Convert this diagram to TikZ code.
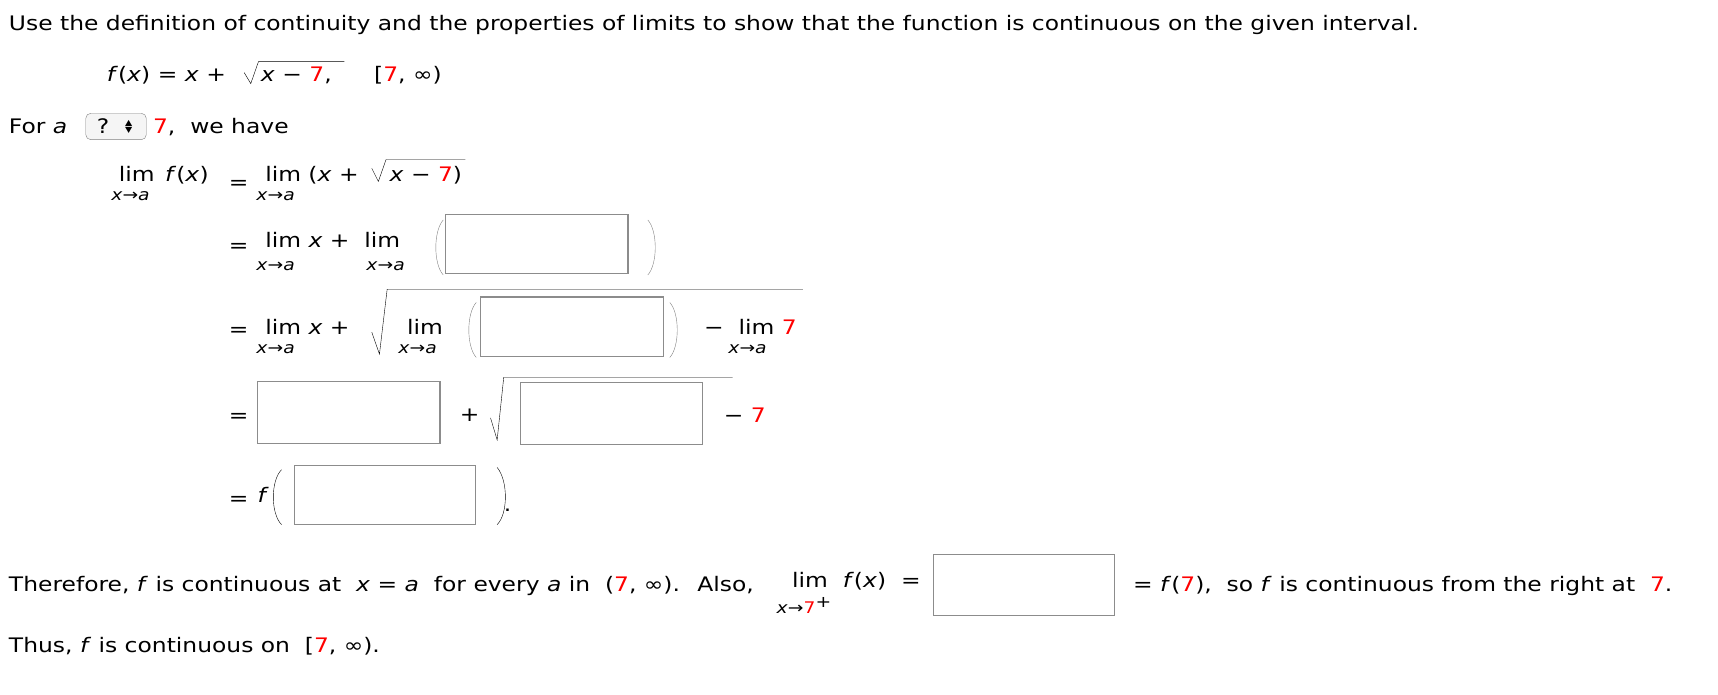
\documentclass[tikz,border=0pt]{standalone}
\usepackage{fontspec}
\setmainfont[FakeStretch=1.17]{DejaVu Sans}
\begin{document}
\begin{tikzpicture}[x=1.1pt,y=-1.1pt,
 t/.style={anchor=base west,inner sep=0pt,font=\fontsize{20}{24}\selectfont},
 s/.style={anchor=base west,inner sep=0pt,font=\fontsize{16}{18}\selectfont},
 ib/.style={draw=gray!90,line width=1.2pt,fill=white},
 r/.style={text=red}]
\useasboundingbox (0,0) rectangle (1562,631);
\node[t] (l1) at (8,28) {Use the definition of continuity and the properties of limits to show that the function is continuous on the given interval.};
\node[t] (fx) at (97,74) {\textit{f}(\textit{x}) = \textit{x} +};
\draw (222,66)--(228,76)--(235,56)--(313,56);
\node[t] (r1) at (237,74) {\textit{x} − \textcolor{red}{7},};
\node[t] (int) at (340,74) {[\textcolor{red}{7}, ∞)};
\node[t] (fa) at (8,121) {For \textit{a}};
\draw[gray,fill=gray!8,rounded corners=5pt] (78,103) rectangle (133,127);
\node[t] (q) at (88,121) {?};
\node[font=\fontsize{8}{7}\selectfont,inner sep=0pt,align=center] (ud) at (117,115) {▲\\▼};
\node[t] (we) at (139,121) {\textcolor{red}{7}, \ we have};
% row1
\node[t] (a1) at (108,165) {lim};
\node[t] (a1f) at (150,165) {\textit{f}(\textit{x})};
\node[s] (a1s) at (101,182) {\textit{x}→\textit{a}};
\node[t] (e1) at (208,172) {=};
\node[t] (b1) at (241,165) {lim (\textit{x} +};
\draw (338,153)--(344,165)--(351,145)--(423,145);
\node[s] (b1s) at (233,182) {\textit{x}→\textit{a}};
\node[t] (b1r) at (354,165) {\textit{x} − \textcolor{red}{7})};
% row2
\node[t] (e2) at (208,230) {=};
\node[t] (c2) at (241,225) {lim \textit{x} + \ lim};
\node[s] (c2s) at (233,246) {\textit{x}→\textit{a}};
\node[s] (c2t) at (333,246) {\textit{x}→\textit{a}};
\draw[gray] (403,200) .. controls (394,210) and (394,240) .. (403,250);
\node[ib,minimum width=166pt*1.1,minimum height=54pt*1.1,inner sep=0pt] (bx1) at (488,222) {};
\draw[gray] (589,200) .. controls (598,210) and (598,240) .. (589,250);
% row3
\node[t] (e3) at (208,306) {=};
\node[t] (c3) at (241,304) {lim \textit{x} +};
\node[s] (c3s) at (233,321) {\textit{x}→\textit{a}};
\draw (338,302)--(345,322)--(352,263)--(730,263);
\node[t] (c3b) at (370,304) {lim};
\node[s] (c3bs) at (362,321) {\textit{x}→\textit{a}};
\draw[gray] (433,275) .. controls (424,285) and (424,315) .. (433,325);
\node[ib,minimum width=166pt*1.1,minimum height=54pt*1.1,inner sep=0pt] (bx2) at (520,297) {};
\draw[gray] (609,275) .. controls (618,285) and (618,315) .. (609,325);
\node[t] (c3c) at (640,304) {− \ lim \textcolor{red}{7}};
\node[s] (c3cs) at (662,321) {\textit{x}→\textit{a}};
% row4
\node[t] (e4) at (208,384) {=};
\node[ib,minimum width=166pt*1.1,minimum height=56pt*1.1,inner sep=0pt] (bx3) at (317,375) {};
\node[t] (p4) at (418,383) {+};
\draw (446,380)--(452,400)--(458,343)--(666,343);
\node[ib,minimum width=166pt*1.1,minimum height=56pt*1.1,inner sep=0pt] (bx4) at (556,376) {};
\node[t] (m4) at (658,384) {− \textcolor{red}{7}};
% row5
\node[t] (e5) at (208,460) {=};
\node[t] (f5) at (234,457) {\textit{f}};
\draw (256,427) .. controls (246,437) and (246,467) .. (256,477);
\node[ib,minimum width=164pt*1.1,minimum height=54pt*1.1,inner sep=0pt] (bx5) at (350,450) {};
\draw (452,425) .. controls (462,437) and (462,467) .. (452,477);
\node[t] (dot) at (458,465) {.};
% therefore
\node[t] (th) at (8,538) {Therefore, \textit{f} is continuous at \ \textit{x} = \textit{a} \ for every \textit{a} in \ (\textcolor{red}{7}, ∞). \ Also,};
\node[t] (lim6) at (720,534) {lim \ \textit{f}(\textit{x}) \ =};
\node[s] (ths) at (706,558) {\textit{x}→\textcolor{red}{7}\raisebox{6pt}{+}};
\node[ib,minimum width=165pt*1.1,minimum height=55pt*1.1,inner sep=0pt] (bx6) at (931,532) {};
\node[t] (th2) at (1030,538) {= \textit{f}(\textcolor{red}{7}), \ so \textit{f} is continuous from the right at \ \textcolor{red}{7}.};
\node[t] (thus) at (8,593) {Thus, \textit{f} is continuous on \ [\textcolor{red}{7}, ∞).};
\end{tikzpicture}
\end{document}
